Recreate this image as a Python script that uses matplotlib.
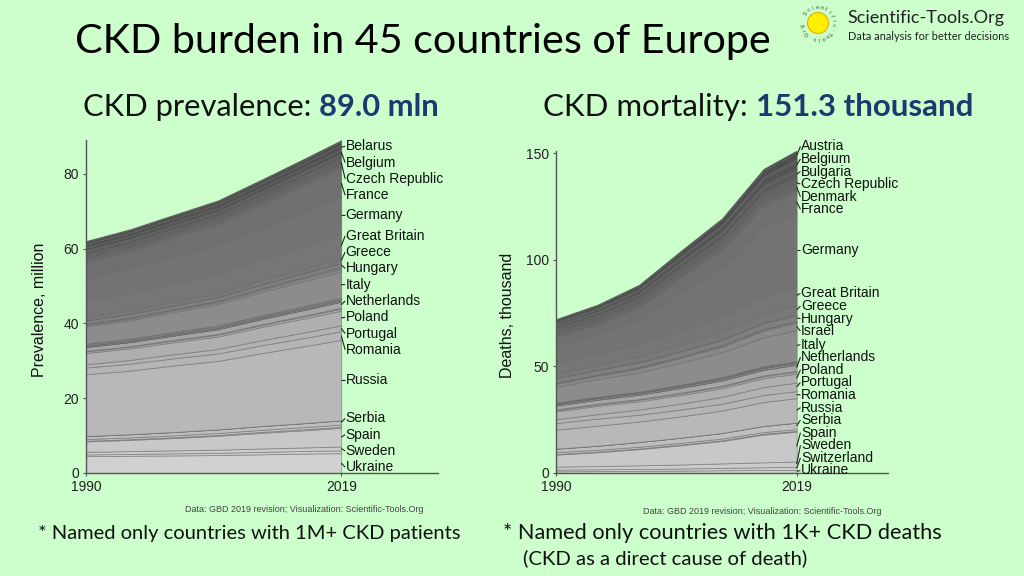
import matplotlib
matplotlib.use("Agg")
import matplotlib.pyplot as plt
import numpy as np

# ---------------- data ----------------
years = [1990, 1995, 2000, 2005, 2010, 2015, 2019]

countries = [
    "Albania", "Andorra", "Austria", "Belarus", "Belgium",
    "Bosnia and Herzegovina", "Bulgaria", "Croatia", "Cyprus", "Czech Republic",
    "Denmark", "Estonia", "Finland", "France", "Germany",
    "Great Britain", "Greece", "Greenland", "Hungary", "Iceland",
    "Ireland", "Israel", "Italy", "Latvia", "Lithuania",
    "Luxembourg", "Malta", "Moldova", "Monaco", "Montenegro",
    "Netherlands", "North Macedonia", "Norway", "Poland", "Portugal",
    "Romania", "Russia", "San Marino", "Serbia", "Slovakia",
    "Slovenia", "Spain", "Sweden", "Switzerland", "Ukraine",
]

# CKD prevalence, million (same order as countries)
prev_1990 = [0.20, 0.004, 0.65, 0.90, 0.80,
             0.30, 0.75, 0.35, 0.05, 0.90,
             0.40, 0.12, 0.40, 4.00, 6.00,
             4.50, 0.90, 0.004, 0.95, 0.02,
             0.28, 0.35, 4.60, 0.20, 0.33,
             0.035, 0.035, 0.30, 0.004, 0.05,
             1.00, 0.17, 0.40, 3.00, 0.90,
             1.80, 16.5, 0.003, 0.80, 0.45,
             0.18, 2.80, 0.70, 0.45, 4.50]
prev_1995 = [0.21, 0.005, 0.68, 0.95, 0.84,
             0.30, 0.76, 0.37, 0.057, 0.92,
             0.41, 0.12, 0.42, 4.35, 6.60,
             4.70, 0.95, 0.004, 0.96, 0.02,
             0.30, 0.40, 4.90, 0.20, 0.33,
             0.038, 0.037, 0.30, 0.004, 0.05,
             1.07, 0.18, 0.42, 3.10, 1.00,
             1.85, 17.0, 0.003, 0.85, 0.47,
             0.19, 3.00, 0.75, 0.50, 4.60]
prev_2000 = [0.22, 0.006, 0.72, 1.00, 0.88,
             0.31, 0.77, 0.39, 0.065, 0.94,
             0.43, 0.12, 0.44, 4.80, 7.20,
             4.95, 1.00, 0.004, 0.97, 0.022,
             0.32, 0.46, 5.30, 0.20, 0.34,
             0.042, 0.040, 0.31, 0.004, 0.055,
             1.15, 0.19, 0.44, 3.20, 1.10,
             1.90, 17.8, 0.004, 0.90, 0.50,
             0.21, 3.30, 0.80, 0.55, 4.70]
prev_2005 = [0.23, 0.006, 0.77, 1.05, 0.93,
             0.32, 0.78, 0.41, 0.075, 0.97,
             0.45, 0.125, 0.47, 5.30, 7.70,
             5.20, 1.08, 0.005, 0.99, 0.024,
             0.35, 0.52, 5.70, 0.20, 0.34,
             0.046, 0.042, 0.32, 0.004, 0.06,
             1.25, 0.21, 0.46, 3.35, 1.20,
             2.00, 18.3, 0.004, 0.95, 0.52,
             0.23, 3.70, 0.85, 0.60, 4.80]
prev_2010 = [0.25, 0.007, 0.83, 1.12, 1.00,
             0.33, 0.79, 0.42, 0.085, 1.00,
             0.48, 0.127, 0.50, 6.00, 8.40,
             5.60, 1.15, 0.005, 1.01, 0.026,
             0.39, 0.60, 6.20, 0.20, 0.34,
             0.050, 0.045, 0.33, 0.004, 0.065,
             1.38, 0.22, 0.50, 3.55, 1.35,
             2.10, 19.5, 0.005, 1.00, 0.55,
             0.25, 4.20, 0.90, 0.65, 5.00]
prev_2015 = [0.27, 0.008, 0.90, 1.20, 1.08,
             0.34, 0.80, 0.44, 0.093, 1.03,
             0.52, 0.13, 0.53, 6.80, 9.20,
             6.10, 1.22, 0.005, 1.03, 0.028,
             0.42, 0.68, 6.70, 0.20, 0.35,
             0.055, 0.048, 0.34, 0.004, 0.07,
             1.50, 0.24, 0.53, 3.75, 1.50,
             2.20, 20.6, 0.005, 1.05, 0.58,
             0.28, 4.60, 0.95, 0.70, 5.20]
prev_2019 = [0.28, 0.008, 0.95, 1.30, 1.15,
             0.35, 0.80, 0.45, 0.10, 1.05,
             0.55, 0.13, 0.55, 7.50, 9.85,
             6.50, 1.30, 0.005, 1.05, 0.03,
             0.45, 0.75, 7.00, 0.20, 0.35,
             0.06, 0.05, 0.35, 0.004, 0.07,
             1.60, 0.25, 0.55, 3.90, 1.60,
             2.30, 21.5, 0.005, 1.10, 0.60,
             0.30, 5.00, 1.02, 0.75, 5.30]

# CKD deaths, thousand (same order as countries)
deaths_1990 = [0.30, 0.010, 1.20, 0.40, 0.90,
               0.40, 1.20, 0.60, 0.10, 1.60,
               1.10, 0.15, 0.50, 3.50, 8.50,
               5.20, 2.00, 0.010, 2.20, 0.040,
               0.50, 1.30, 7.50, 0.25, 0.30,
               0.080, 0.060, 0.60, 0.010, 0.10,
               1.80, 0.30, 0.60, 3.70, 1.80,
               3.10, 8.90, 0.005, 1.60, 0.90,
               0.30, 5.60, 1.40, 0.80, 0.80]
deaths_1995 = [0.35, 0.010, 1.40, 0.45, 1.20,
               0.45, 1.40, 0.65, 0.12, 1.70,
               1.15, 0.16, 0.55, 4.20, 9.00,
               5.50, 2.30, 0.010, 2.30, 0.040,
               0.52, 1.50, 8.20, 0.26, 0.32,
               0.080, 0.065, 0.62, 0.010, 0.10,
               1.90, 0.32, 0.65, 3.90, 2.10,
               3.30, 9.40, 0.005, 1.90, 0.85,
               0.30, 6.50, 1.50, 0.85, 0.90]
deaths_2000 = [0.40, 0.012, 1.70, 0.50, 1.60,
               0.50, 1.60, 0.70, 0.14, 1.80,
               1.20, 0.17, 0.60, 5.20, 11.5,
               6.00, 2.70, 0.010, 2.40, 0.040,
               0.55, 1.80, 9.00, 0.27, 0.34,
               0.085, 0.070, 0.64, 0.010, 0.11,
               2.00, 0.34, 0.70, 3.90, 2.40,
               3.20, 9.60, 0.006, 2.20, 0.80,
               0.32, 7.60, 1.70, 0.90, 1.00]
deaths_2005 = [0.50, 0.014, 2.10, 0.55, 2.10,
               0.60, 1.90, 0.78, 0.17, 2.00,
               1.30, 0.18, 0.65, 6.50, 18.0,
               6.60, 3.10, 0.010, 2.50, 0.045,
               0.58, 2.20, 10.3, 0.28, 0.36,
               0.090, 0.080, 0.65, 0.010, 0.12,
               2.20, 0.37, 0.75, 4.00, 2.80,
               3.20, 10.0, 0.007, 2.40, 0.80,
               0.34, 9.00, 1.90, 1.00, 1.10]
deaths_2010 = [0.60, 0.016, 2.60, 0.65, 2.70,
               0.70, 2.20, 0.85, 0.20, 2.20,
               1.40, 0.18, 0.70, 8.00, 23.0,
               7.30, 3.60, 0.010, 2.70, 0.045,
               0.62, 2.60, 11.6, 0.29, 0.37,
               0.090, 0.085, 0.67, 0.010, 0.13,
               2.40, 0.40, 0.80, 4.10, 3.20,
               3.20, 10.5, 0.008, 2.60, 0.80,
               0.36, 10.5, 2.10, 1.10, 1.30]
deaths_2015 = [0.70, 0.018, 3.10, 0.75, 3.40,
               0.80, 2.60, 0.92, 0.23, 2.40,
               1.50, 0.19, 0.75, 9.80, 32.5,
               8.40, 4.20, 0.010, 2.90, 0.050,
               0.67, 3.20, 13.5, 0.30, 0.39,
               0.100, 0.095, 0.69, 0.010, 0.14,
               2.60, 0.43, 0.85, 4.20, 3.70,
               3.30, 11.2, 0.009, 2.90, 0.80,
               0.38, 13.0, 2.30, 1.30, 1.40]
deaths_2019 = [0.80, 0.020, 3.40, 0.80, 3.80,
               0.90, 2.90, 0.95, 0.25, 2.60,
               1.60, 0.20, 0.80, 10.5, 34.0,
               9.00, 4.50, 0.010, 3.00, 0.050,
               0.70, 3.50, 14.5, 0.30, 0.40,
               0.100, 0.100, 0.70, 0.010, 0.15,
               2.80, 0.45, 0.90, 4.20, 4.00,
               3.30, 11.5, 0.010, 3.00, 0.80,
               0.40, 14.0, 2.50, 1.40, 1.50]

named_prev = ["Belarus", "Belgium", "Czech Republic", "France", "Germany",
              "Great Britain", "Greece", "Hungary", "Italy", "Netherlands",
              "Poland", "Portugal", "Romania", "Russia", "Serbia", "Spain",
              "Sweden", "Ukraine"]
named_deaths = ["Austria", "Belgium", "Bulgaria", "Czech Republic", "Denmark",
                "France", "Germany", "Great Britain", "Greece", "Hungary",
                "Israel", "Italy", "Netherlands", "Poland", "Portugal",
                "Romania", "Russia", "Serbia", "Spain", "Sweden",
                "Switzerland", "Ukraine"]

prev_yticks = [0, 20, 40, 60, 80]
deaths_yticks = [0, 50, 100, 150]
x_ticks = [1990, 2019]

title_text = "CKD burden in 45 countries of Europe"
prev_head, prev_total = "CKD prevalence: ", "89.0 mln"
deaths_head, deaths_total = "CKD mortality: ", "151.3 thousand"
source_text = "Data: GBD 2019 revision; Visualization: Scientific-Tools.Org"
note_prev = "* Named only countries with 1M+ CKD patients"
note_deaths_1 = "* Named only countries with 1K+ CKD deaths"
note_deaths_2 = "(CKD as a direct cause of death)"

# ---------------- style ----------------
BG = "#ccffcc"
W, H = 1024, 576
TXT_FONT = "Lato"
AX_FONT = "Liberation Sans"
NAVY = "#1d3a70"

fig = plt.figure(figsize=(W / 100, H / 100), dpi=100, facecolor=BG)


def add_ax(l, t, r, b):
    return fig.add_axes([l / W, 1 - b / H, (r - l) / W, (b - t) / H])


def repel(centers, gap, lo, hi):
    p = np.array(centers, dtype=float)
    for _ in range(1000):
        moved = False
        for i in range(len(p) - 1):
            d = p[i + 1] - p[i]
            if d < gap - 1e-6:
                s = (gap - d) / 2
                p[i] -= s
                p[i + 1] += s
                moved = True
        if p[0] < lo:
            p[0] = lo
            moved = True
        if p[-1] > hi:
            p[-1] = hi
            moved = True
        if not moved:
            break
    return p


def stacked(ax, year_lists, names_to_label, ylim, yticks, gap, lo, hi, ylabel):
    mat = np.array(year_lists).T  # countries x years
    order = list(range(len(countries)))[::-1]  # Ukraine at bottom
    rows = [mat[i] for i in order]
    n = len(rows)
    cols = [str(0.82 - 0.54 * k / (n - 1)) for k in range(n)]
    ax.stackplot(years, *rows, colors=cols, edgecolor=(0.38, 0.38, 0.38, 0.55),
                 linewidth=0.6)
    ax.set_xlim(1990, 2030)
    ax.set_ylim(*ylim)
    ax.set_facecolor("none")
    for s in ("top", "right"):
        ax.spines[s].set_visible(False)
    for s in ("left", "bottom"):
        ax.spines[s].set_color("#555555")
        ax.spines[s].set_linewidth(1.0)
    ax.set_xticks(x_ticks)
    ax.set_xticklabels([str(v) for v in x_ticks])
    ax.set_yticks(yticks)
    ax.tick_params(axis="both", length=2, width=0.8, color="#555555",
                   labelsize=10, labelcolor="#222222", pad=3)
    for lab in ax.get_xticklabels() + ax.get_yticklabels():
        lab.set_fontfamily(AX_FONT)
    ax.set_ylabel(ylabel, fontsize=11.5, fontfamily=AX_FONT, color="#111111")

    # labels at 2019 with leader lines
    last = mat[:, -1]
    cum = 0.0
    centers = {}
    for i in order:
        centers[countries[i]] = cum + last[i] / 2
        cum += last[i]
    lab_names = sorted(names_to_label, key=lambda c: centers[c])
    cvals = [centers[c] for c in lab_names]
    pos = repel(cvals, gap, lo, hi)
    x0 = years[-1]
    for name, c, p in zip(lab_names, cvals, pos):
        ax.plot([x0, x0 + 0.45], [c, p], color="#222222", lw=0.8,
                clip_on=False, solid_capstyle="butt")
        ax.text(x0 + 0.5, p, name, fontsize=10, fontfamily=AX_FONT,
                color="#111111", va="center", ha="left", clip_on=False)


prev_years = [prev_1990, prev_1995, prev_2000, prev_2005, prev_2010, prev_2015, prev_2019]
death_years = [deaths_1990, deaths_1995, deaths_2000, deaths_2005, deaths_2010,
               deaths_2015, deaths_2019]

ax1 = add_ax(86, 140, 438, 473)
stacked(ax1, prev_years, named_prev, (0, 89), prev_yticks, 4.35, 0.5, 87.3,
        "Prevalence, million")
ax1.yaxis.set_label_coords(-0.111, 0.49)

ax2 = add_ax(556, 151, 888, 473)
stacked(ax2, death_years, named_deaths, (0, 151), deaths_yticks, 5.9, 1.2, 155,
        "Deaths, thousand")
ax2.yaxis.set_label_coords(-0.123, 0.49)

# ---------------- texts ----------------
def ftext(x, y, s, **kw):
    return fig.text(x / W, 1 - y / H, s, **kw)


ftext(75, 42, title_text, fontsize=29.7, fontfamily=TXT_FONT, color="#000000",
      va="center", ha="left")

renderer = fig.canvas.get_renderer()


def two_part(x, y, a, b, size):
    t = ftext(x, y, a, fontsize=size, fontfamily=TXT_FONT, color="#111111",
              va="center", ha="left")
    bb = t.get_window_extent(renderer=renderer)
    fig.text(bb.x1 / W, 1 - y / H, b, fontsize=size, fontfamily=TXT_FONT,
             fontweight="bold", color=NAVY, va="center", ha="left")


two_part(83, 107, prev_head, prev_total, 22.2)
two_part(543, 107, deaths_head, deaths_total, 22.5)

ftext(304, 510, source_text, fontsize=6.5, fontfamily=AX_FONT, color="#444444",
      ha="center", va="center")
ftext(762, 511, source_text, fontsize=6.5, fontfamily=AX_FONT, color="#444444",
      ha="center", va="center")

ftext(38, 533, note_prev, fontsize=14.5, fontfamily=TXT_FONT, color="#111111",
      ha="left", va="center")
ftext(503, 533, note_deaths_1, fontsize=15.7, fontfamily=TXT_FONT, color="#111111",
      ha="left", va="center")
ftext(523, 558, note_deaths_2, fontsize=14.6, fontfamily=TXT_FONT, color="#111111",
      ha="left", va="center")

# ---------------- logo ----------------
lax = fig.add_axes([795 / W, 1 - 46 / H, 46 / W, 46 / H])
lax.set_xlim(-23, 23)
lax.set_ylim(-23, 23)
lax.set_aspect("equal")
lax.axis("off")
lax.add_patch(plt.Circle((0, 0), 10.5, facecolor="#ffee00", edgecolor="#e0b000", lw=0.8))
ring = "Scientific-Tools.Org  "
for k, ch in enumerate(ring):
    ang = np.pi / 2 - 2 * np.pi * k / len(ring) + 0.9
    lax.text(15.5 * np.cos(ang), 15.5 * np.sin(ang), ch, fontsize=4.2,
             color="#445533", ha="center", va="center",
             rotation=np.degrees(ang) - 90)
ftext(847, 18, "Scientific-Tools.Org", fontsize=13, fontfamily=TXT_FONT,
      color="#222222", ha="left", va="center")
ftext(848, 37, "Data analysis for better decisions", fontsize=7.9,
      fontfamily=TXT_FONT, color="#222222", ha="left", va="center")

fig.savefig("out.png", dpi=100, facecolor=BG)
